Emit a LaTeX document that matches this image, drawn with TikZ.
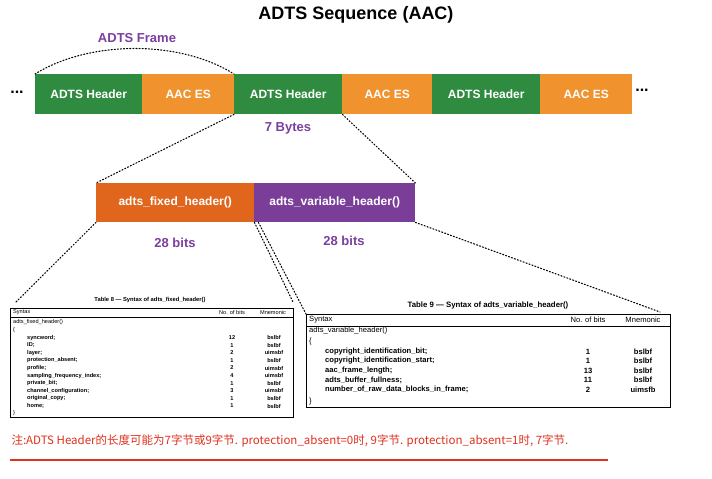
\documentclass[tikz,border=0pt]{standalone}
\usepackage{fontspec}
\setmainfont{Liberation Sans}
\newfontfamily\cjk{Noto Sans CJK SC}
\definecolor{gr}{HTML}{2F8B3F}
\definecolor{og}{HTML}{F0922E}
\definecolor{dog}{HTML}{E0661E}
\definecolor{pu}{HTML}{7A3E98}
\definecolor{lab}{HTML}{7B3FA0}
\definecolor{rd}{HTML}{E0301E}
\begin{document}
\begin{tikzpicture}[x=1pt,y=-1pt,
  seg/.style={draw=none,minimum height=40pt,inner sep=0pt,text=white,font=\bfseries\fontsize{12}{12}\selectfont},
  lbl/.style={text=lab,font=\bfseries\fontsize{13}{13}\selectfont},
  dots/.style={dotted,line width=1.1pt,line cap=round},
  tb/.style={font=\fontsize{5.6}{6}\selectfont,inner sep=0pt},
  tbb/.style={font=\bfseries\fontsize{5.6}{6}\selectfont,inner sep=0pt},
  tr/.style={font=\fontsize{7.6}{8}\selectfont,inner sep=0pt},
  trb/.style={font=\bfseries\fontsize{7.6}{8}\selectfont,inner sep=0pt}]
\useasboundingbox[fill=white] (0,0) rectangle (712,479);
\node[font=\bfseries\fontsize{18}{18}\selectfont] (title) at (356,15) {ADTS Sequence (AAC)};
% bar
\node[seg,fill=gr,minimum width=107pt,anchor=north west] (h1) at (35,74) {ADTS Header};
\node[seg,fill=og,minimum width=92pt,anchor=north west] (e1) at (142,74) {AAC ES};
\node[seg,fill=gr,minimum width=108pt,anchor=north west] (h2) at (234,74) {ADTS Header};
\node[seg,fill=og,minimum width=90pt,anchor=north west] (e2) at (342,74) {AAC ES};
\node[seg,fill=gr,minimum width=108pt,anchor=north west] (h3) at (432,74) {ADTS Header};
\node[seg,fill=og,minimum width=92pt,anchor=north west] (e3) at (540,74) {AAC ES};
\node[font=\bfseries\fontsize{16}{16}\selectfont] (dl) at (17,92) {...};
\node[font=\bfseries\fontsize{16}{16}\selectfont] (dr) at (642,90) {...};
\node[lbl] (fr) at (137,38) {ADTS Frame};
\draw[dots] (h1.north west) .. controls (90,40) and (180,40) .. (h2.north west);
\node[lbl] (by) at (288,128) {7 Bytes};
% header split
\node[seg,fill=dog,minimum width=158pt,minimum height=39pt,anchor=north west] (fx) at (96,183) {adts\_fixed\_header()};
\node[seg,fill=pu,minimum width=161pt,minimum height=39pt,anchor=north west] (vr) at (254,183) {adts\_variable\_header()};
\draw[dots] (h2.south west) -- (fx.north west);
\draw[dots] (h2.south east) -- (vr.north east);
\node[lbl] (b1) at (175,243) {28 bits};
\node[lbl] (b2) at (344,241) {28 bits};
% left table
\node[font=\bfseries\fontsize{5.8}{6}\selectfont] (t8) at (150,300) {Table 8 --- Syntax of adts\_fixed\_header()};
\draw[line width=0.6pt] (10,308) rectangle (293,417);
\draw[line width=0.5pt] (10,317) -- (293,317);
\coordinate (tl) at (10,308);
\coordinate (tlr) at (293,308);
\node[tb,anchor=west] at (13,312.5) {Syntax};
\node[tb] at (232,312.5) {No. of bits};
\node[tb] at (273,312.5) {Mnemonic};
\node[tb,anchor=west] at (13,322) {adts\_fixed\_header()};
\node[tb,anchor=west] at (13,330) {\{};
\foreach \n/\b/\m [count=\i] in {syncword;/12/bslbf,ID;/1/bslbf,layer;/2/uimsbf,protection\_absent;/1/bslbf,profile;/2/uimsbf,sampling\_frequency\_index;/4/uimsbf,private\_bit;/1/bslbf,channel\_configuration;/3/uimsbf,original\_copy;/1/bslbf,home;/1/bslbf}{
  \node[tbb,anchor=west] at (27,330+7.6*\i) {\n};
  \node[tbb] at (232,330+7.6*\i) {\b};
  \node[tbb] at (274,330+7.6*\i) {\m};
}
\node[tb,anchor=west] at (13,413) {\}};
% right table
\node[font=\bfseries\fontsize{7.8}{8}\selectfont] (t9) at (488,305) {Table 9 --- Syntax of adts\_variable\_header()};
\draw[line width=0.6pt] (306,314) rectangle (670,407);
\draw[line width=0.5pt] (306,326) -- (670,326);
\coordinate (tr) at (306,314);
\coordinate (trr) at (660,312);
\node[tr,anchor=west] at (309,320) {Syntax};
\node[tr] at (588,320) {No. of bits};
\node[tr] at (643,320) {Mnemonic};
\node[tr,anchor=west] at (309,331) {adts\_variable\_header()};
\node[tr,anchor=west] at (309,342) {\{};
\foreach \n/\b/\m [count=\i] in {copyright\_identification\_bit;/1/bslbf,copyright\_identification\_start;/1/bslbf,aac\_frame\_length;/13/bslbf,adts\_buffer\_fullness;/11/bslbf,number\_of\_raw\_data\_blocks\_in\_frame;/2/uimsfb}{
  \node[trb,anchor=west] at (325,342+9.5*\i) {\n};
  \node[trb] at (588,342+9.5*\i) {\b};
  \node[trb] at (643,342+9.5*\i) {\m};
}
\node[tr,anchor=west] at (309,402) {\}};
% zoom lines to tables
\draw[dots] (fx.south west) -- (16,302);
\draw[dots] (fx.south east) -- (293,302);
\draw[dots] ([xshift=4pt]fx.south east) -- (tr);
\draw[dots] (vr.south east) -- (trr);
% footnote
\node[text=rd,anchor=west,font=\cjk\fontsize{11.5}{12}\selectfont] (note) at (8,441) {注:ADTS Header的长度可能为7字节或9字节. protection\_absent=0时, 9字节. protection\_absent=1时, 7字节.};
\draw[rd,line width=1.3pt] (10,460) -- (608,460);
\end{tikzpicture}
\end{document}
